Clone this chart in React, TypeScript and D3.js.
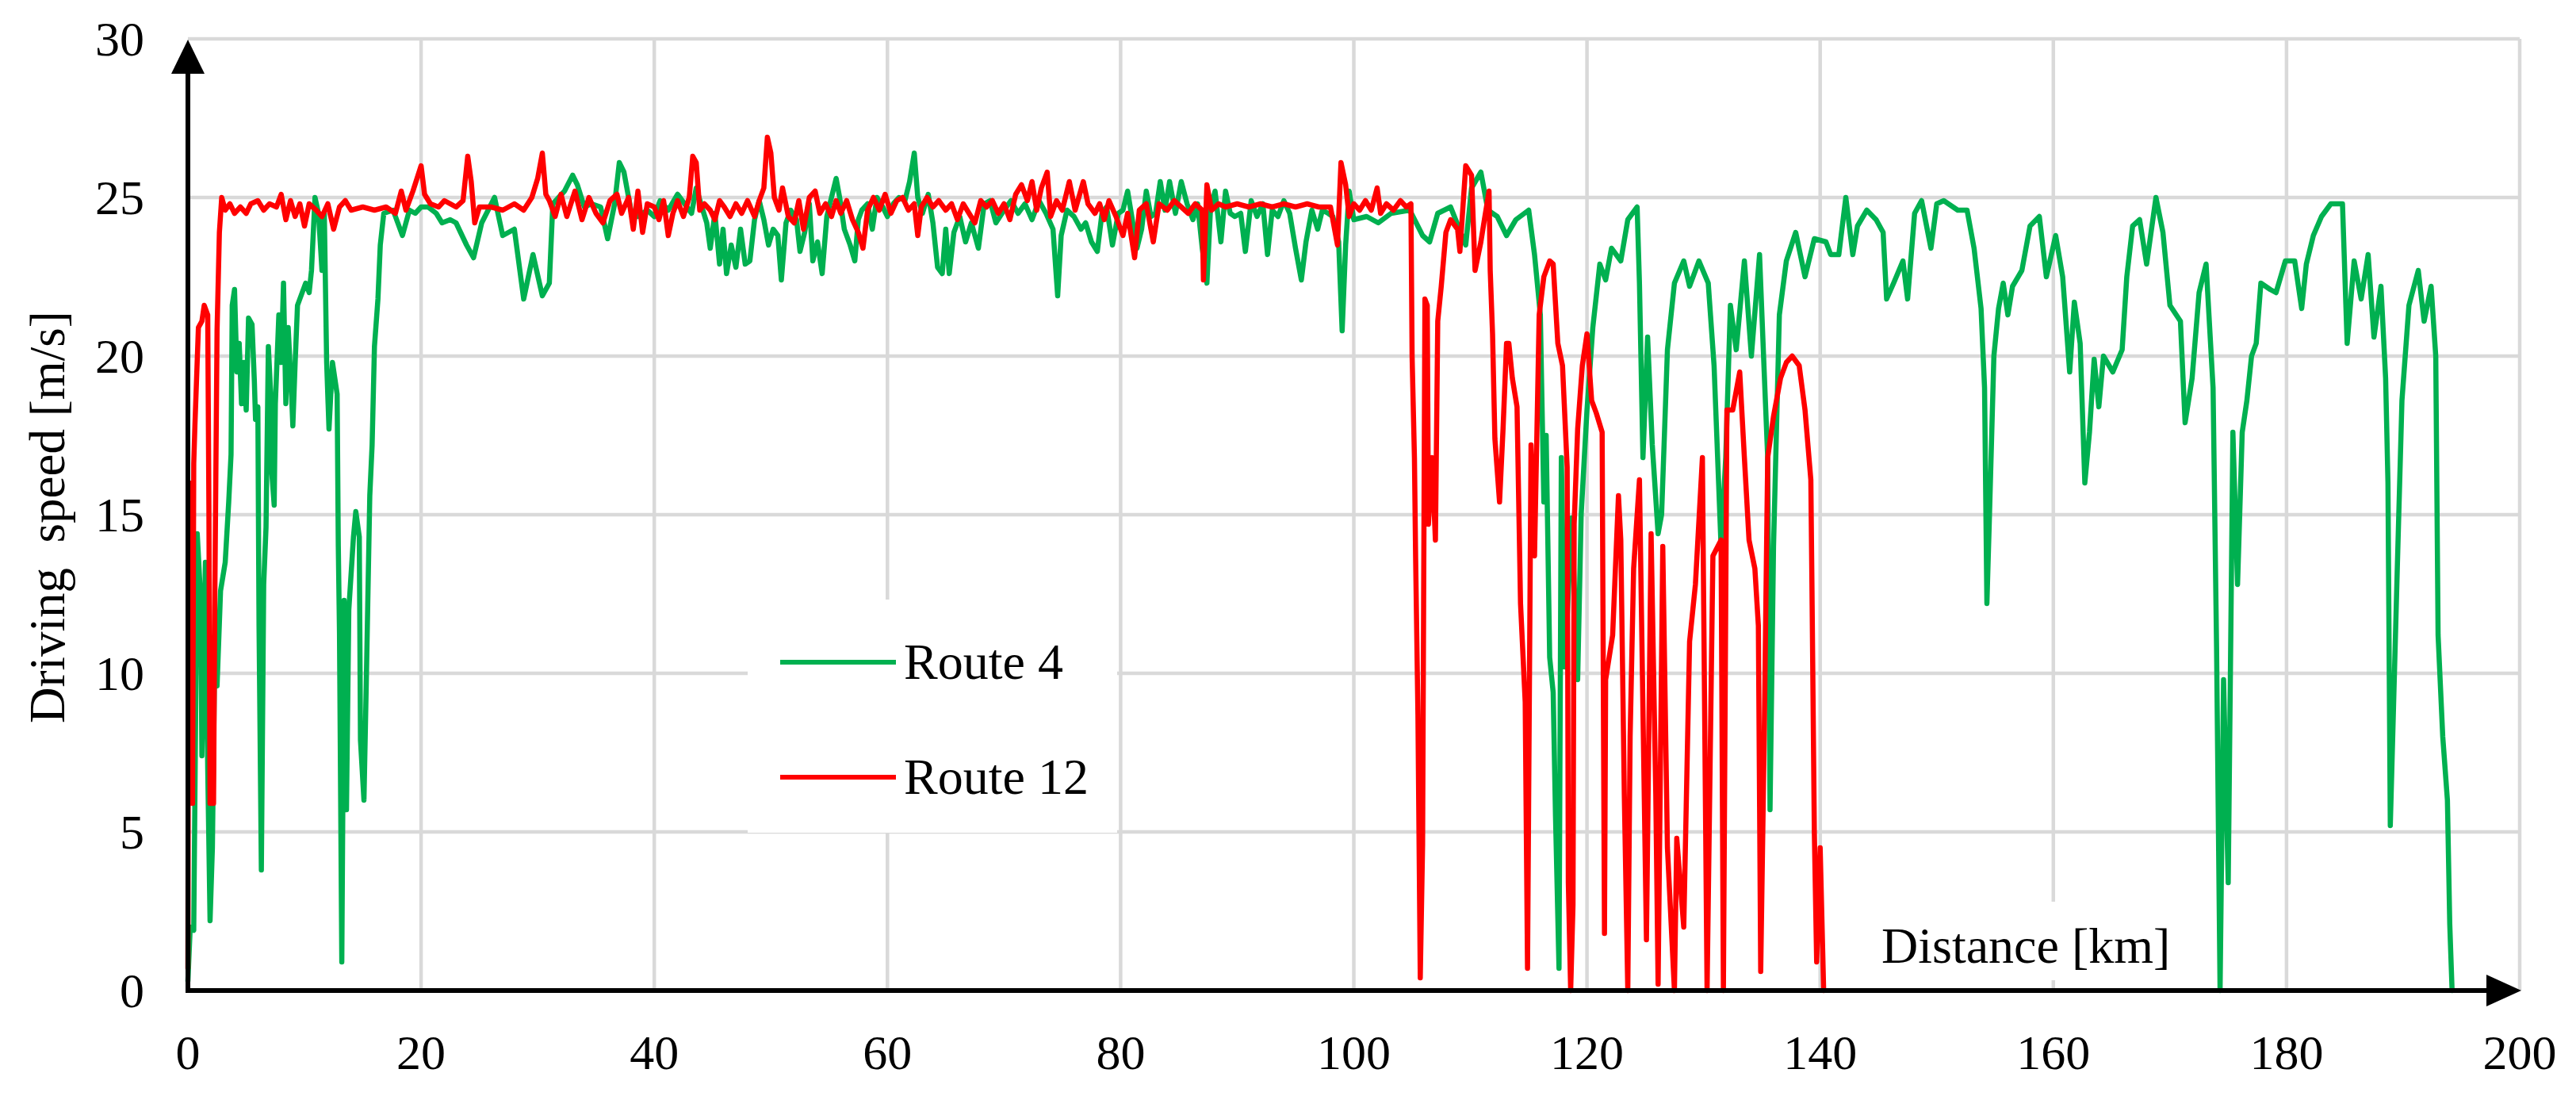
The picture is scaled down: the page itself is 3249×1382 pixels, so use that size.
import * as d3 from "d3";

// distance [km], driving speed [m/s]
const route4: [number, number][] = [
  [0, 0.3], [0.2, 2.0], [0.5, 1.9], [0.8, 14.4], [1.1, 12.3], [1.2, 7.4], [1.5, 13.5], [1.7, 7.0],
  [1.9, 2.2], [2.1, 4.5], [2.3, 10.6], [2.5, 9.6], [2.8, 12.6], [3.2, 13.5], [3.5, 15.4], [3.7, 16.9],
  [3.8, 21.6], [4.0, 22.1], [4.2, 19.5], [4.4, 20.4], [4.6, 18.5], [4.8, 19.8], [5.0, 18.3], [5.2, 21.2],
  [5.5, 21.0], [5.7, 19.2], [5.8, 18.0], [6.0, 18.4], [6.1, 11.5], [6.3, 3.8], [6.5, 12.8], [6.7, 14.6],
  [6.9, 20.3], [7.1, 18.8], [7.2, 16.3], [7.4, 15.3], [7.5, 18.5], [7.8, 21.3], [8.0, 19.8], [8.2, 22.3],
  [8.4, 18.5], [8.6, 20.9], [8.9, 18.7], [9.0, 17.8], [9.2, 19.8], [9.4, 21.6], [9.8, 22.0], [10.1, 22.3],
  [10.4, 22.0], [10.6, 22.7], [10.9, 25.0], [11.2, 24.5], [11.5, 22.7], [11.7, 24.5], [11.9, 19.8],
  [12.1, 17.7], [12.4, 19.8], [12.8, 18.8], [12.9, 14.0], [13.0, 11.3], [13.2, 0.9], [13.4, 12.3],
  [13.6, 5.7], [13.8, 12.0], [14.2, 14.3], [14.4, 15.1], [14.7, 14.3], [14.8, 7.9], [15.1, 6.0],
  [15.3, 9.7], [15.6, 15.6], [15.8, 17.2], [16.0, 20.3], [16.3, 21.8], [16.5, 23.5], [16.8, 24.5],
  [17.6, 24.6], [18.0, 24.2], [18.4, 23.8], [19.0, 24.6], [19.5, 24.5], [20.0, 24.7], [20.6, 24.7],
  [21.3, 24.5], [21.8, 24.2], [22.5, 24.3], [23.0, 24.2], [23.9, 23.5], [24.5, 23.1], [25.2, 24.2],
  [26.3, 25.0], [27.0, 23.8], [28.0, 24.0], [28.8, 21.8], [29.6, 23.2], [30.4, 21.9], [31.0, 22.3],
  [31.3, 24.8], [32.3, 25.2], [33.0, 25.7], [33.4, 25.4], [34.0, 24.7], [34.6, 24.8], [35.4, 24.7],
  [36.0, 23.7], [36.6, 24.8], [37.0, 26.1], [37.4, 25.8], [38.0, 24.6], [38.6, 24.4], [39.4, 24.6],
  [40.0, 24.4], [40.5, 24.9], [41.2, 24.6], [42.0, 25.1], [42.6, 24.8], [43.2, 24.5], [43.6, 25.3],
  [44.0, 24.8], [44.5, 24.2], [44.8, 23.4], [45.2, 24.5], [45.6, 22.9], [45.9, 24.0], [46.2, 22.6],
  [46.6, 23.5], [47.0, 22.8], [47.4, 24.0], [47.8, 22.9], [48.2, 23.0], [48.6, 24.3], [49.0, 24.9],
  [49.4, 24.3], [49.8, 23.5], [50.2, 24.0], [50.6, 23.8], [50.9, 22.4], [51.3, 24.2], [51.7, 24.6],
  [52.2, 24.3], [52.5, 23.3], [52.9, 23.9], [53.3, 24.8], [53.6, 23.0], [54.0, 23.6], [54.4, 22.6],
  [54.8, 24.4], [55.2, 25.0], [55.6, 25.6], [55.9, 25.0], [56.3, 24.0], [56.8, 23.5], [57.2, 23.0],
  [57.5, 24.3], [57.8, 24.6], [58.3, 24.8], [58.7, 24.0], [59.1, 25.0], [59.6, 24.7], [60.0, 24.4],
  [60.5, 24.8], [61.0, 25.0], [61.5, 24.9], [61.9, 25.5], [62.3, 26.4], [62.6, 25.0], [63.0, 24.5],
  [63.5, 25.1], [63.9, 24.2], [64.3, 22.8], [64.7, 22.6], [65.0, 24.0], [65.3, 22.6], [65.7, 23.9],
  [66.2, 24.4], [66.7, 23.6], [67.2, 24.2], [67.8, 23.4], [68.3, 24.8], [68.8, 24.9], [69.3, 24.2],
  [70.0, 24.6], [70.6, 24.9], [71.2, 24.5], [71.8, 24.8], [72.4, 24.3], [73.0, 24.9], [73.6, 24.5],
  [74.2, 24.0], [74.6, 21.9], [74.9, 23.8], [75.4, 24.6], [76.0, 24.4], [76.6, 24.0], [77.0, 24.2],
  [77.5, 23.6], [78.0, 23.3], [78.4, 24.5], [78.8, 24.7], [79.3, 23.5], [79.8, 24.5], [80.2, 24.6],
  [80.6, 25.2], [81.0, 24.3], [81.4, 23.4], [81.8, 24.0], [82.2, 25.2], [82.6, 24.4], [83.0, 24.5],
  [83.4, 25.5], [83.8, 24.6], [84.2, 25.5], [84.7, 24.5], [85.2, 25.5], [85.7, 24.8], [86.2, 24.3],
  [86.6, 24.8], [87.0, 23.4], [87.4, 22.3], [87.7, 24.6], [88.1, 25.2], [88.6, 23.6], [89.0, 25.2],
  [89.4, 24.5], [89.8, 24.4], [90.3, 24.5], [90.7, 23.3], [91.2, 24.9], [91.7, 24.4], [92.2, 24.8],
  [92.6, 23.2], [93.0, 24.6], [93.5, 24.4], [94.0, 24.9], [94.5, 24.5], [95.0, 23.4], [95.5, 22.4],
  [95.9, 23.6], [96.4, 24.6], [96.9, 24.0], [97.3, 24.6], [97.8, 24.5], [98.2, 24.4], [98.7, 23.6],
  [99.0, 20.8], [99.3, 23.5], [99.6, 25.2], [100.0, 24.3], [101.1, 24.4], [102.1, 24.2], [103.2, 24.5],
  [104.8, 24.6], [105.9, 23.8], [106.5, 23.6], [107.2, 24.5], [108.3, 24.7], [109.6, 23.5], [110.1, 25.3],
  [110.9, 25.8], [111.5, 24.6], [112.3, 24.4], [113.1, 23.8], [113.9, 24.3], [115.0, 24.6], [115.5, 23.2],
  [116.0, 21.3], [116.3, 15.4], [116.5, 17.5], [116.8, 10.5], [117.1, 9.4], [117.3, 5.5], [117.6, 0.7],
  [117.8, 16.8], [118.1, 10.2], [118.7, 14.9], [119.2, 9.8], [119.5, 15.0], [120.0, 18.3], [120.5, 20.9],
  [121.1, 22.9], [121.6, 22.4], [122.1, 23.4], [122.9, 23.0], [123.5, 24.3], [124.3, 24.7], [124.5, 22.3],
  [124.8, 16.8], [125.2, 20.6], [125.6, 17.2], [126.1, 14.4], [126.4, 15.0], [126.9, 20.2], [127.5, 22.3],
  [128.3, 23.0], [128.8, 22.2], [129.6, 23.0], [130.4, 22.3], [130.9, 19.7], [131.5, 14.0], [131.9, 16.8],
  [132.3, 21.6], [132.8, 20.2], [133.5, 23.0], [134.1, 20.0], [134.8, 23.2], [135.2, 19.5], [135.5, 16.8],
  [135.7, 5.7], [136.0, 14.0], [136.5, 21.3], [137.1, 23.0], [137.9, 23.9], [138.7, 22.5], [139.5, 23.7],
  [140.5, 23.6], [140.9, 23.2], [141.6, 23.2], [142.2, 25.0], [142.8, 23.2], [143.2, 24.1], [144.0, 24.6],
  [144.8, 24.3], [145.4, 23.9], [145.7, 21.8], [146.3, 22.3], [147.1, 23.0], [147.5, 21.8], [148.1, 24.5],
  [148.7, 24.9], [149.5, 23.4], [150.0, 24.8], [150.6, 24.9], [151.8, 24.6], [152.6, 24.6], [153.2, 23.4],
  [153.8, 21.5], [154.1, 19.0], [154.3, 12.2], [154.5, 14.7], [154.9, 20.0], [155.3, 21.5], [155.7, 22.3],
  [156.1, 21.3], [156.5, 22.2], [157.3, 22.7], [158.0, 24.1], [158.8, 24.4], [159.4, 22.5], [160.2, 23.8],
  [160.8, 22.5], [161.4, 19.5], [161.8, 21.7], [162.3, 20.4], [162.7, 16.0], [163.1, 17.6], [163.5, 19.9],
  [163.9, 18.4], [164.3, 20.0], [165.1, 19.5], [165.9, 20.2], [166.3, 22.5], [166.8, 24.1], [167.4, 24.3],
  [168.0, 22.9], [168.8, 25.0], [169.4, 23.9], [170.0, 21.6], [170.9, 21.1], [171.3, 17.9], [171.9, 19.3],
  [172.5, 22.0], [173.1, 22.9], [173.7, 19.0], [174.0, 10.8], [174.3, 0.0], [174.6, 9.8], [175.0, 3.4],
  [175.4, 17.6], [175.8, 12.8], [176.2, 17.6], [176.6, 18.6], [177.0, 20.0], [177.4, 20.4], [177.8, 22.3],
  [178.6, 22.1], [179.1, 22.0], [179.9, 23.0], [180.7, 23.0], [181.3, 21.5], [181.7, 22.9], [182.3, 23.8],
  [183.0, 24.4], [183.8, 24.8], [184.8, 24.8], [185.2, 20.4], [185.8, 23.0], [186.4, 21.8], [187.0, 23.2],
  [187.5, 20.6], [188.1, 22.2], [188.5, 19.3], [188.7, 16.0], [188.9, 5.2], [189.5, 13.3], [189.9, 18.6],
  [190.5, 21.6], [191.3, 22.7], [191.8, 21.1], [192.4, 22.2], [192.8, 20.0], [193.0, 11.2], [193.4, 8.0],
  [193.8, 6.0], [194.0, 2.1], [194.2, 0.0],
];

const route12: [number, number][] = [
  [0, 0.7], [0.05, 11.5], [0.15, 16.0], [0.3, 15.4], [0.4, 5.9], [0.5, 16.6], [0.6, 17.8], [0.9, 20.9],
  [1.2, 21.1], [1.4, 21.6], [1.7, 21.3], [1.8, 15.3], [1.9, 5.9], [2.2, 5.9], [2.3, 12.0], [2.5, 20.8],
  [2.7, 23.9], [2.9, 25.0], [3.2, 24.6], [3.6, 24.8], [4.0, 24.5], [4.5, 24.7], [5.0, 24.5], [5.4, 24.8],
  [6.0, 24.9], [6.5, 24.6], [7.0, 24.8], [7.6, 24.7], [8.0, 25.1], [8.4, 24.3], [8.8, 24.9], [9.2, 24.4],
  [9.6, 24.8], [10.0, 24.1], [10.4, 24.8], [11.0, 24.6], [11.5, 24.4], [12.0, 24.8], [12.5, 24.0],
  [13.0, 24.7], [13.5, 24.9], [14.0, 24.6], [15.0, 24.7], [16.0, 24.6], [17.0, 24.7], [17.8, 24.5],
  [18.3, 25.2], [18.7, 24.6], [19.3, 25.2], [20.0, 26.0], [20.3, 25.1], [20.8, 24.8], [21.5, 24.7],
  [22.0, 24.9], [23.0, 24.7], [23.6, 24.9], [24.0, 26.3], [24.3, 25.5], [24.6, 24.2], [25.0, 24.7],
  [26.0, 24.7], [27.0, 24.6], [28.0, 24.8], [28.8, 24.6], [29.5, 25.0], [30.0, 25.6], [30.4, 26.4],
  [30.7, 25.1], [31.0, 24.9], [31.5, 24.4], [32.0, 25.1], [32.5, 24.4], [33.2, 25.2], [33.8, 24.3],
  [34.4, 25.0], [35.0, 24.5], [35.6, 24.2], [36.2, 24.9], [36.8, 25.1], [37.2, 24.5], [37.8, 25.0],
  [38.2, 24.0], [38.6, 25.2], [39.0, 23.9], [39.4, 24.8], [40.0, 24.7], [40.4, 24.3], [40.8, 24.9],
  [41.2, 23.8], [41.6, 24.5], [42.0, 24.9], [42.5, 24.4], [43.0, 25.0], [43.3, 26.3], [43.6, 26.1],
  [43.9, 24.6], [44.3, 24.8], [44.8, 24.6], [45.2, 24.3], [45.6, 24.9], [46.0, 24.7], [46.5, 24.4],
  [47.0, 24.8], [47.5, 24.5], [48.0, 24.9], [48.6, 24.4], [49.0, 24.9], [49.4, 25.3], [49.7, 26.9],
  [50.0, 26.4], [50.3, 25.0], [50.7, 24.6], [51.0, 25.3], [51.5, 24.4], [52.0, 24.2], [52.4, 24.9],
  [52.8, 24.0], [53.3, 25.0], [53.8, 25.2], [54.2, 24.5], [54.7, 24.8], [55.2, 24.4], [55.6, 24.9],
  [56.0, 24.5], [56.5, 24.9], [57.0, 24.3], [57.5, 23.9], [57.9, 23.4], [58.3, 24.6], [58.8, 25.0],
  [59.3, 24.6], [59.8, 25.1], [60.3, 24.5], [60.8, 24.9], [61.3, 25.0], [61.8, 24.6], [62.3, 24.8],
  [62.6, 23.8], [62.9, 24.7], [63.4, 25.0], [63.9, 24.7], [64.4, 24.9], [65.0, 24.6], [65.5, 24.8],
  [66.0, 24.3], [66.5, 24.8], [67.0, 24.5], [67.5, 24.2], [68.0, 24.9], [68.5, 24.7], [69.0, 24.9],
  [69.5, 24.5], [70.0, 24.8], [70.5, 24.3], [71.0, 25.1], [71.5, 25.4], [72.0, 24.9], [72.4, 25.5],
  [72.8, 24.6], [73.2, 25.3], [73.7, 25.8], [74.0, 24.4], [74.5, 24.9], [75.0, 24.6], [75.6, 25.5],
  [76.1, 24.6], [76.8, 25.5], [77.2, 24.8], [77.8, 24.5], [78.2, 24.8], [78.6, 24.3], [79.0, 24.9],
  [79.6, 24.4], [80.2, 23.8], [80.6, 24.5], [81.2, 23.1], [81.6, 24.6], [82.2, 24.8], [82.8, 23.6],
  [83.3, 24.8], [84.0, 24.6], [84.6, 24.9], [85.2, 24.7], [85.8, 24.5], [86.4, 24.8], [87.0, 24.6],
  [87.1, 22.4], [87.4, 25.4], [87.8, 24.6], [88.4, 24.8], [89.0, 24.7], [90.0, 24.8], [91.0, 24.7],
  [92.0, 24.8], [93.0, 24.7], [94.0, 24.8], [95.0, 24.7], [96.0, 24.8], [97.0, 24.7], [98.0, 24.7],
  [98.6, 23.5], [98.9, 26.1], [99.3, 25.4], [99.6, 24.4], [100.0, 24.8], [100.5, 24.6], [101.0, 24.9],
  [101.5, 24.6], [102.0, 25.3], [102.3, 24.5], [102.8, 24.8], [103.4, 24.6], [104.0, 24.9], [104.5, 24.7],
  [104.9, 24.8], [105.0, 20.0], [105.2, 16.8], [105.3, 13.7], [105.5, 8.7], [105.7, 0.4], [105.9, 4.6],
  [106.1, 21.8], [106.3, 21.6], [106.4, 14.7], [106.7, 16.8], [107.0, 14.2], [107.2, 21.1], [107.5, 22.2],
  [107.9, 23.9], [108.3, 24.3], [108.9, 24.0], [109.1, 23.3], [109.6, 26.0], [110.1, 25.7], [110.4, 22.7],
  [110.9, 23.6], [111.2, 24.3], [111.6, 25.2], [111.7, 22.7], [111.9, 20.7], [112.1, 17.4], [112.5, 15.4],
  [112.8, 17.7], [113.1, 20.4], [113.3, 20.4], [113.6, 19.3], [114.0, 18.4], [114.3, 12.2], [114.7, 9.1],
  [114.9, 0.7], [115.2, 17.2], [115.5, 13.7], [115.9, 21.3], [116.3, 22.5], [116.8, 23.0], [117.1, 22.9],
  [117.5, 20.4], [117.9, 19.7], [118.3, 16.5], [118.4, 3.4], [118.6, 0.0], [118.8, 2.7], [118.9, 14.7],
  [119.2, 17.7], [119.6, 19.7], [120.0, 20.7], [120.4, 18.6], [120.8, 18.2], [121.3, 17.6], [121.5, 1.8],
  [121.6, 9.8], [122.2, 11.2], [122.7, 15.6], [122.9, 14.2], [123.2, 6.2], [123.5, 0.0], [123.7, 8.0],
  [124.0, 13.3], [124.5, 16.1], [125.1, 1.6], [125.5, 14.4], [125.9, 6.2], [126.1, 0.2], [126.5, 14.0],
  [126.9, 4.5], [127.5, 0.0], [127.7, 4.8], [128.3, 2.0], [128.8, 11.0], [129.3, 12.8], [129.9, 16.8],
  [130.3, 0.0], [130.8, 13.7], [131.5, 14.2], [131.7, 0.0], [132.0, 18.3], [132.5, 18.3], [133.1, 19.5],
  [133.5, 16.8], [133.9, 14.2], [134.4, 13.3], [134.7, 11.5], [134.9, 0.6], [135.2, 8.0], [135.5, 16.8],
  [136.0, 18.1], [136.6, 19.3], [137.1, 19.8], [137.6, 20.0], [138.2, 19.7], [138.7, 18.3], [139.2, 16.1],
  [139.3, 12.6], [139.5, 5.0], [139.7, 0.9], [140.0, 4.5], [140.3, 0.0],
];

const xTicks = [0, 20, 40, 60, 80, 100, 120, 140, 160, 180, 200];
const yTicks = [0, 5, 10, 15, 20, 25, 30];

const series = [
  { name: "Route 4", color: "#00b050", data: route4 },
  { name: "Route 12", color: "#ff0000", data: route12 },
];

const W = 3249;
const H = 1382;
const FONT = "'Liberation Serif', 'Times New Roman', serif";

export default function App() {
  const x = d3.scaleLinear().domain([0, 200]).range([237, 3178]);
  const y = d3.scaleLinear().domain([0, 30]).range([1249, 49]);

  const line = d3
    .line<[number, number]>()
    .x((d) => x(d[0]))
    .y((d) => y(d[1]));

  const x0 = x(0);
  const y0 = y(0);
  const yTop = y(30);
  const xEnd = x(200);

  return (
    <svg
      width={W}
      height={H}
      style={{ position: "absolute", left: 0, top: 0, background: "#fff" }}
      fontFamily={FONT}
    >
      {/* grid */}
      {xTicks.slice(1).map((t) => (
        <line key={"gx" + t} x1={x(t)} x2={x(t)} y1={yTop} y2={y0} stroke="#d9d9d9" strokeWidth={4.5} />
      ))}
      {yTicks.slice(1).map((t) => (
        <line key={"gy" + t} x1={x0} x2={xEnd} y1={y(t)} y2={y(t)} stroke="#d9d9d9" strokeWidth={4.5} />
      ))}

      {/* white boxes behind legend and x-axis title */}
      <rect x={943} y={756} width={466} height={294} fill="#fff" />
      <rect x={2360} y={1137} width={390} height={99} fill="#fff" />

      {/* lines */}
      {series.map((s) => (
        <path
          key={s.name}
          d={line(s.data) ?? ""}
          fill="none"
          stroke={s.color}
          strokeWidth={6.5}
          strokeLinejoin="round"
          strokeLinecap="round"
        />
      ))}

      {/* axes with arrows */}
      <line x1={x0} x2={x0} y1={y0 + 3} y2={yTop + 40} stroke="#000" strokeWidth={6} />
      <polygon points={`${x0},${yTop + 1} ${x0 - 21},${yTop + 44} ${x0 + 21},${yTop + 44}`} fill="#000" />
      <line x1={x0 - 3} x2={xEnd - 40} y1={y0} y2={y0} stroke="#000" strokeWidth={6} />
      <polygon points={`${xEnd + 2},${y0} ${xEnd - 42},${y0 - 20} ${xEnd - 42},${y0 + 20}`} fill="#000" />

      {/* tick labels */}
      {xTicks.map((t) => (
        <text key={"tx" + t} x={x(t)} y={1348} fontSize={62} textAnchor="middle" fill="#000">
          {t}
        </text>
      ))}
      {yTicks.map((t) => (
        <text key={"ty" + t} x={182} y={y(t) + 21} fontSize={62} textAnchor="end" fill="#000">
          {t}
        </text>
      ))}

      {/* axis titles */}
      <text x={2373} y={1214} fontSize={64} fill="#000">
        Distance [km]
      </text>
      <text transform="translate(81,912) rotate(-90)" fontSize={63} fill="#000" style={{ whiteSpace: "pre" }}>
        {"Driving  speed [m/s]"}
      </text>

      {/* legend */}
      {series.map((s, i) => (
        <g key={"lg" + s.name} transform={`translate(0,${835 + i * 145})`}>
          <line x1={984} x2={1130} y1={0} y2={0} stroke={s.color} strokeWidth={6} />
          <text x={1140} y={21} fontSize={64} fill="#000">
            {s.name}
          </text>
        </g>
      ))}
    </svg>
  );
}
